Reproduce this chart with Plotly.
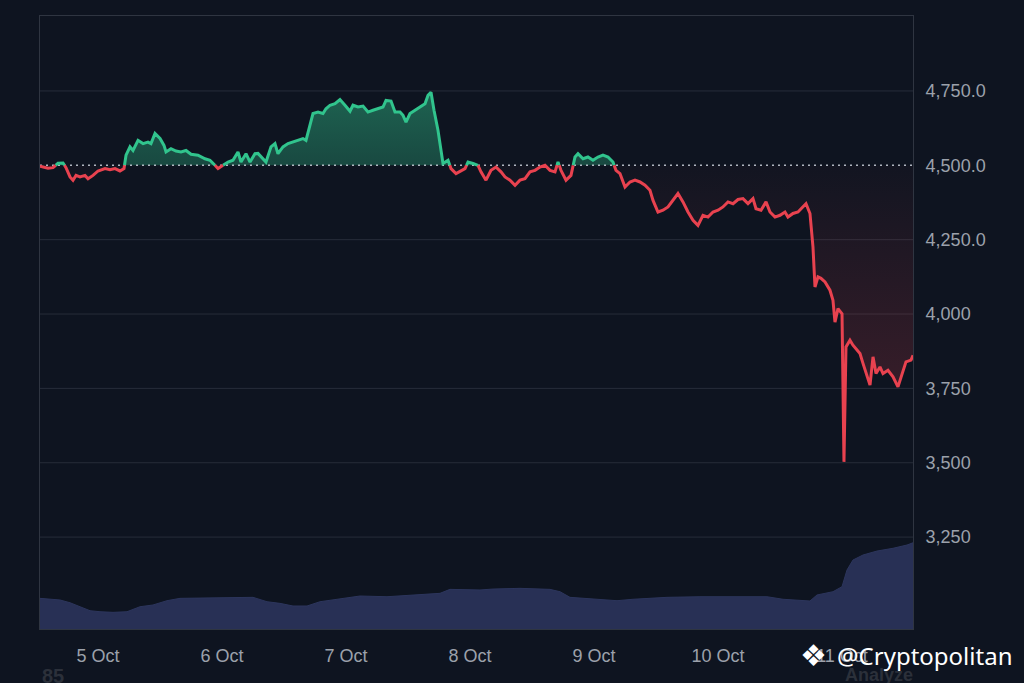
import numpy as np
import pandas as pd
import plotly.graph_objects as go

# ---------------- data ----------------
START = "2025-10-04 12:46"
BASELINE = 4500

PRICE_HOURS = [0.0, 1.55, 2.52, 3.48, 4.45, 5.03, 5.81, 6.39, 6.97, 7.74, 8.71, 9.29, 10.26, 11.23, 12.58,
               13.55, 14.52, 15.48, 16.26, 16.65, 17.42, 18.0, 18.97, 19.94, 20.9, 21.48, 22.26, 23.23, 24.0,
               24.39, 25.35, 26.32, 27.29, 28.26, 29.23, 30.58, 31.94, 32.9, 33.87, 34.45, 35.42, 36.39, 37.35,
               38.32, 38.9, 39.87, 40.65, 41.61, 42.19, 43.16, 43.74, 44.71, 45.48, 46.06, 47.03, 48.0, 48.97,
               49.94, 50.9, 51.48, 52.26, 52.84, 53.81, 54.77, 55.35, 56.13, 57.1, 58.06, 59.03, 60.0, 60.58,
               61.55, 62.52, 63.48, 64.45, 65.42, 66.39, 66.97, 67.94, 68.71, 69.68, 70.26, 70.84, 71.61, 72.58,
               73.55, 74.52, 75.1, 75.68, 76.26, 77.03, 78.0, 78.97, 79.55, 80.52, 81.48, 82.26, 82.84, 83.81,
               84.77, 85.35, 86.32, 87.29, 88.26, 89.23, 90.0, 90.97, 91.94, 92.9, 93.87, 94.84, 95.81, 96.77,
               97.74, 98.71, 99.68, 100.26, 100.84, 101.81, 102.77, 103.55, 104.13, 105.1, 106.06, 107.03, 108.0,
               108.97, 109.94, 110.9, 111.48, 112.26, 113.23, 114.19, 115.16, 116.13, 117.1, 118.06, 118.65,
               119.61, 120.58, 121.55, 122.52, 123.48, 124.45, 125.42, 126.39, 127.35, 128.32, 129.29, 130.26,
               131.23, 132.19, 133.16, 134.13, 135.1, 136.06, 137.03, 138.0, 138.58, 139.55, 140.52, 141.29,
               142.26, 143.23, 144.19, 144.77, 145.74, 146.71, 147.68, 148.26, 149.03, 149.61, 150.0, 150.58,
               151.16, 151.94, 152.9, 153.48, 153.87, 154.45, 155.23, 155.61, 156.0, 156.77, 157.35, 157.94,
               158.71, 159.29, 159.87, 160.65, 161.23, 161.81, 162.58, 163.16, 164.13, 165.1, 166.06, 166.84,
               167.61, 168.58, 168.97]

PRICE = [4497, 4490, 4492, 4507, 4508, 4492, 4461, 4450, 4466, 4461, 4466, 4455, 4466, 4481, 4489,
         4485, 4489, 4481, 4489, 4534, 4562, 4550, 4584, 4573, 4578, 4573, 4607, 4590, 4567,
         4545, 4556, 4548, 4545, 4550, 4537, 4534, 4522, 4517, 4500, 4489, 4500, 4511, 4517,
         4545, 4511, 4539, 4511, 4539, 4540, 4522, 4511, 4562, 4573, 4539, 4562, 4573, 4578,
         4584, 4590, 4584, 4640, 4674, 4679, 4674, 4690, 4702, 4707, 4721, 4702, 4682, 4702,
         4696, 4699, 4679, 4685, 4690, 4696, 4718, 4716, 4679, 4679, 4668, 4645, 4674, 4685,
         4696, 4707, 4735, 4746, 4685, 4618, 4506, 4517, 4489, 4472, 4481, 4489, 4511, 4506,
         4500, 4478, 4450, 4483, 4494, 4478, 4461, 4450, 4433, 4450, 4455, 4478, 4483, 4494,
         4500, 4483, 4478, 4511, 4483, 4450, 4466, 4528, 4539, 4522, 4528, 4517, 4528,
         4534, 4528, 4511, 4483, 4472, 4427, 4444, 4450, 4444, 4433, 4416, 4382,
         4343, 4349, 4360, 4382, 4405, 4377, 4343, 4315, 4298, 4332, 4326, 4343,
         4349, 4360, 4377, 4371, 4385, 4388, 4371, 4388, 4354, 4349, 4377, 4343,
         4326, 4332, 4343, 4326, 4338, 4343, 4360, 4371, 4338, 4226, 4091, 4125,
         4120, 4108, 4080, 4046, 3973, 4018, 4001, 3503, 3889, 3912, 3895, 3884,
         3867, 3834, 3800, 3761, 3856, 3800, 3822, 3800, 3811, 3789, 3755, 3800,
         3839, 3845, 3861]

VOL_HOURS = [0, 3.87, 5.81, 7.74, 9.68, 11.61, 14.13, 16.84, 19.35, 21.87, 24.58, 27.1, 32.32, 37.35,
             41.23, 43.94, 46.45, 48.97, 51.68, 54.19, 56.71, 59.42, 61.94, 67.16, 72.19, 74.9, 77.42,
             79.35, 82.65, 85.16, 87.68, 92.9, 98.71, 100.65, 102.58, 107.03, 111.68, 114.77, 121.35,
             127.74, 134.13, 140.71, 143.81, 149.03, 150.39, 153.48, 155.23, 156.19, 157.35, 159.29,
             161.99, 165.1, 167.81, 168.97]
VOLUME = [3.00, 2.84, 2.57, 2.18, 1.79, 1.69, 1.63, 1.69, 2.18, 2.35, 2.77, 3.00, 3.06, 3.10,
          3.10, 2.67, 2.51, 2.25, 2.25, 2.67, 2.84, 3.00, 3.23, 3.16, 3.33, 3.42, 3.49,
          3.88, 3.88, 3.82, 3.91, 3.98, 3.88, 3.65, 3.10, 2.94, 2.77, 2.91, 3.10,
          3.16, 3.16, 3.16, 2.91, 2.74, 3.33, 3.65, 4.14, 5.77, 6.75, 7.24,
          7.63, 7.90, 8.22, 8.44]

TICK_VALUES = [3250, 3500, 3750, 4000, 4250, 4500, 4750]
TICK_TEXT = ["3,250", "3,500", "3,750", "4,000", "4,250.0", "4,500.0", "4,750.0"]
Y_RANGE = [2941, 5002]
VOL_RANGE = [0, 60]

BG = "#0e1420"
GREEN = "#31c48d"
RED = "#e8424f"
GRID = "#272d39"
TICK_COLOR = "#9ca1ab"

# ---------------- build baseline split ----------------
h = list(PRICE_HOURS)
p = list(PRICE)
hh, pp = [h[0]], [p[0]]
for i in range(1, len(p)):
    a, b = p[i - 1] - BASELINE, p[i] - BASELINE
    if a * b < 0:
        t = h[i - 1] + (h[i] - h[i - 1]) * (a / (a - b))
        hh.append(t)
        pp.append(BASELINE)
    hh.append(h[i])
    pp.append(p[i])
pp = np.array(pp, dtype=float)
t0 = pd.Timestamp(START)
tx = t0 + pd.to_timedelta(hh, unit="h")
vx = t0 + pd.to_timedelta(VOL_HOURS, unit="h")
x_end = t0 + pd.to_timedelta(PRICE_HOURS[-1], unit="h")

up = np.maximum(pp, BASELINE)
dn = np.minimum(pp, BASELINE)
green_line = [v if v >= BASELINE else None for v in pp]
red_line = [v if v <= BASELINE else None for v in pp]
base = [BASELINE] * len(pp)

fig = go.Figure()

# volume (bottom)
fig.add_trace(go.Scatter(x=vx, y=VOLUME, yaxis="y2", mode="lines",
                         line=dict(color="#2c355c", width=1), fill="tozeroy",
                         fillcolor="#283055", hoverinfo="skip", showlegend=False))

# green fill
fig.add_trace(go.Scatter(x=tx, y=base, mode="lines", line=dict(width=0),
                         hoverinfo="skip", showlegend=False))
fig.add_trace(go.Scatter(x=tx, y=up, mode="lines", line=dict(width=0), fill="tonexty",
                         fillgradient=dict(type="vertical", start=BASELINE, stop=4750,
                                           colorscale=[[0, "rgba(49,196,141,0.30)"],
                                                       [1, "rgba(49,196,141,0.45)"]]),
                         hoverinfo="skip", showlegend=False))
# red fill
fig.add_trace(go.Scatter(x=tx, y=base, mode="lines", line=dict(width=0),
                         hoverinfo="skip", showlegend=False))
fig.add_trace(go.Scatter(x=tx, y=dn, mode="lines", line=dict(width=0), fill="tonexty",
                         fillgradient=dict(type="vertical", start=3600, stop=BASELINE,
                                           colorscale=[[0, "rgba(232,66,79,0.22)"],
                                                       [1, "rgba(232,66,79,0.02)"]]),
                         hoverinfo="skip", showlegend=False))

# baseline dotted
fig.add_trace(go.Scatter(x=[tx[0], x_end], y=[BASELINE, BASELINE], mode="lines",
                         line=dict(color="rgba(205,210,220,0.85)", width=1.5, dash="2px,4px"),
                         hoverinfo="skip", showlegend=False))

# price lines
fig.add_trace(go.Scatter(x=tx, y=green_line, mode="lines", connectgaps=False,
                         line=dict(color=GREEN, width=3), hoverinfo="skip", showlegend=False))
fig.add_trace(go.Scatter(x=tx, y=red_line, mode="lines", connectgaps=False,
                         line=dict(color=RED, width=3), hoverinfo="skip", showlegend=False))

# grid lines (except the baseline, which is dotted)
for v in TICK_VALUES:
    if v != BASELINE:
        fig.add_shape(type="line", xref="paper", x0=0, x1=1, yref="y", y0=v, y1=v,
                      line=dict(color=GRID, width=1), layer="below")

fig.update_layout(
    width=1024, height=683,
    paper_bgcolor=BG, plot_bgcolor=BG,
    margin=dict(l=40, r=111, t=16, b=54),
    font=dict(family="Liberation Sans, Arial, sans-serif", color=TICK_COLOR),
    showlegend=False,
    xaxis=dict(type="date", range=[tx[0], x_end], tickformat="%-d %b",
               dtick=86400000, tick0="2025-10-05", showgrid=False, zeroline=False,
               showline=True, mirror=True, linecolor="#2f3541", linewidth=1,
               ticks="", ticklabelstandoff=10, tickfont=dict(size=18, color=TICK_COLOR)),
    yaxis=dict(range=Y_RANGE, side="right", tickvals=TICK_VALUES, ticktext=TICK_TEXT,
               showgrid=False, zeroline=False, showline=True, mirror=True,
               linecolor="#2f3541", linewidth=1, ticks="", ticklabelstandoff=8,
               tickfont=dict(size=18, color=TICK_COLOR)),
    yaxis2=dict(range=VOL_RANGE, overlaying="y", visible=False),
)

# faint cut-off texts at the bottom
fig.add_annotation(text="<b>85</b>", xref="paper", yref="paper", x=0.0, y=-0.055,
                   xanchor="left", yanchor="top", showarrow=False,
                   font=dict(size=20, color="#2b303a"))
fig.add_annotation(text="<b>Analyze</b>", xref="paper", yref="paper", x=0.92, y=-0.055,
                   xanchor="left", yanchor="top", showarrow=False,
                   font=dict(size=18, color="#2b303a"))
# watermark
fig.add_annotation(text="❖", xref="paper", yref="paper", x=0.886, y=-0.044,
                   xanchor="center", yanchor="middle", showarrow=False,
                   font=dict(size=30, color="white", family="DejaVu Sans"))
fig.add_annotation(text="@Cryptopolitan", xref="paper", yref="paper", x=0.911, y=-0.044,
                   xanchor="left", yanchor="middle", showarrow=False,
                   font=dict(size=24, color="white", family="Noto Sans"))

fig.write_html("out.html", config={"displayModeBar": False},
               post_script="document.body.style.margin='0';document.body.style.overflow='hidden';")
